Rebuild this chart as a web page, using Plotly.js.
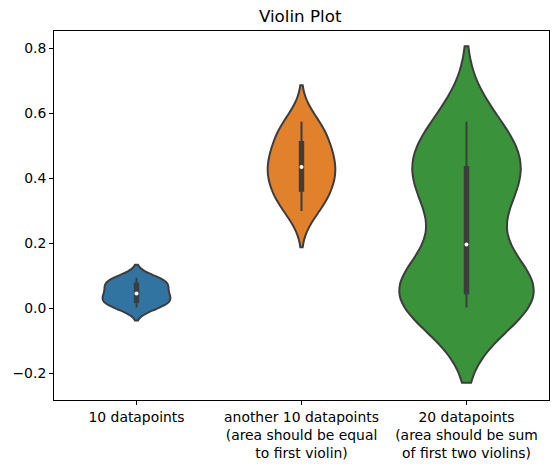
<!DOCTYPE html>
<html>
<head>
<meta charset="utf-8">
<script src="https://cdn.plot.ly/plotly-3.0.1.min.js"></script>
<style>
  html, body { margin: 0; padding: 0; background: #fff; }
  #plot { width: 559px; height: 466px; }
</style>
</head>
<body>
<div id="plot"></div>
<script>
// category labels (x axis)
const categories = [
    '10 datapoints',
    'another 10 datapoints<br>(area should be equal<br>to first violin)',
    '20 datapoints<br>(area should be sum<br>of first two violins)'
];

// values
const firstTen = [0.003, 0.012, 0.020, 0.030, 0.043, 0.049, 0.068, 0.077, 0.085, 0.094];
const secondTen = [0.300, 0.340, 0.362, 0.400, 0.430, 0.440, 0.470, 0.512, 0.540, 0.575];
const allTwenty = [0.003, 0.012, 0.020, 0.030, 0.043, 0.049, 0.068, 0.077, 0.085, 0.094,
                   0.300, 0.340, 0.362, 0.400, 0.430, 0.440, 0.470, 0.512, 0.540, 0.575];

const seriesValues = [firstTen, secondTen, allTwenty];
const fillColors = ['#3274a1', '#e1812c', '#3a923a'];
const bandwidths = [0.02, 0.056, 0.116];
const violinWidths = [0.41, 0.41, 0.81];
const boxWidths = [0.05, 0.05, 0.026];
const edgeGray = '#3d3d3d';

function median(arr) {
    const s = [...arr].sort((a, b) => a - b);
    const m = Math.floor(s.length / 2);
    return s.length % 2 ? s[m] : (s[m - 1] + s[m]) / 2;
}

let traces = [];

seriesValues.forEach((vals, i) => {
    traces.push({
        type: 'violin',
        x: vals.map(() => categories[i]),
        y: vals,
        name: categories[i],
        scalegroup: 'g' + i,
        scalemode: 'width',
        width: violinWidths[i],
        bandwidth: bandwidths[i],
        spanmode: 'soft',
        fillcolor: fillColors[i],
        opacity: 1,
        line: { color: edgeGray, width: 2 },
        points: false,
        box: {
            visible: true,
            width: boxWidths[i],
            fillcolor: edgeGray,
            line: { color: edgeGray, width: 2 }
        },
        meanline: { visible: false },
        hoverinfo: 'skip'
    });
});

// white dot at the median, like seaborn's inner box
traces.push({
    type: 'scatter',
    mode: 'markers',
    x: categories,
    y: seriesValues.map(median),
    marker: { color: 'white', size: 4, line: { width: 0 } },
    hoverinfo: 'skip'
});

const layout = {
    width: 559,
    height: 466,
    margin: { l: 54, r: 10, t: 31, b: 66 },
    paper_bgcolor: '#fff',
    plot_bgcolor: '#fff',
    showlegend: false,
    violinmode: 'overlay',
    font: { family: 'DejaVu Sans, sans-serif', size: 13.9, color: '#000' },
    title: {
        text: 'Violin Plot',
        font: { size: 16.7, color: '#000' },
        x: 0.537,
        xanchor: 'center',
        y: 0.965,
        yanchor: 'middle'
    },
    xaxis: {
        type: 'category',
        range: [-0.5, 2.5],
        showgrid: false,
        zeroline: false,
        showline: true,
        mirror: true,
        linecolor: '#000',
        linewidth: 1,
        ticks: 'outside',
        ticklen: 4,
        tickcolor: '#000',
        tickfont: { size: 13.9 }
    },
    yaxis: {
        range: [-0.282, 0.854],
        dtick: 0.2,
        tick0: 0,
        tickformat: '.1f',
        showgrid: false,
        zeroline: false,
        showline: true,
        mirror: true,
        linecolor: '#000',
        linewidth: 1,
        ticks: 'outside',
        ticklen: 4,
        tickcolor: '#000',
        tickfont: { size: 13.9 }
    }
};

Plotly.newPlot('plot', traces, layout, { displayModeBar: false, staticPlot: true });
</script>
</body>
</html>
